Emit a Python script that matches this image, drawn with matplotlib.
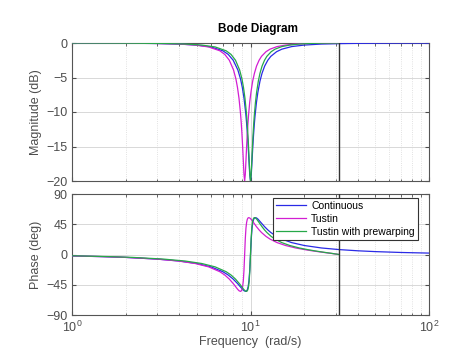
import matplotlib
matplotlib.use("Agg")
import matplotlib.pyplot as plt
from matplotlib.ticker import LogLocator, NullFormatter, FixedLocator

plt.rcParams["font.family"] = ["Liberation Sans", "DejaVu Sans"]

# --- data (frequency in rad/s, magnitude in dB, phase in deg)
cont_w = [1, 1.5, 2, 3, 4, 5, 6, 7, 7.5, 8, 8.5, 8.8, 9, 9.2, 9.4, 9.5, 9.6,
          9.7, 9.8, 9.9, 10, 10.1, 10.2, 10.3, 10.4, 10.5, 10.6, 10.8, 11,
          11.3, 11.6, 12, 12.5, 13, 14, 15, 17, 20, 25, 31.4, 40, 50, 70, 100]
cont_mag = [-0.01, -0.02, -0.03, -0.07, -0.15, -0.30, -0.57, -1.13, -1.65,
            -2.50, -3.92, -5.25, -6.47, -8.04, -10.15, -11.48, -13.04, -14.89,
            -16.99, -19.03, -20.00, -19.05, -17.07, -15.06, -13.31, -11.83,
            -10.58, -8.60, -7.13, -5.53, -4.40, -3.35, -2.50, -1.93, -1.26,
            -0.89, -0.52, -0.30, -0.15, -0.09, -0.05, -0.03, -0.01, -0.01]
cont_phase = [-2.1, -3.2, -4.3, -6.8, -9.7, -13.4, -18.4, -25.6, -30.5, -36.6,
              -43.8, -48.5, -51.5, -53.9, -54.9, -54.3, -52.4, -48.1, -39.5,
              -23.8, 0.0, 23.6, 39.1, 47.5, 51.9, 54.0, 54.8, 54.4, 52.7, 49.2,
              45.7, 41.3, 36.6, 32.7, 26.9, 22.9, 17.7, 13.4, 9.7, 7.3, 5.5,
              4.3, 3.0, 2.1]

tus_w = [0.999, 1.497, 1.993, 2.978, 3.948, 4.900, 5.829, 6.734, 7.175, 7.610,
         8.037, 8.290, 8.457, 8.623, 8.787, 8.869, 8.950, 9.031, 9.112, 9.192,
         9.273, 9.351, 9.430, 9.509, 9.587, 9.665, 9.743, 9.897, 10.057,
         10.286, 10.517, 10.808, 11.172, 11.528, 12.215, 12.870, 14.090,
         15.708, 17.921, 20.073, 22.143, 23.806, 25.850, 27.468, 28.578,
         29.423, 30.417, 31.016, 31.416]
tus_mag = [-0.01, -0.02, -0.03, -0.07, -0.15, -0.30, -0.57, -1.13, -1.65,
           -2.50, -3.92, -5.25, -6.47, -8.04, -10.15, -11.48, -13.04, -14.89,
           -16.99, -19.03, -20.00, -19.05, -17.07, -15.06, -13.31, -11.83,
           -10.58, -8.60, -7.13, -5.53, -4.40, -3.35, -2.50, -1.93, -1.26,
           -0.89, -0.52, -0.30, -0.15, -0.09, -0.05, -0.03, -0.01, -0.01,
           0.00, 0.00, 0.00, 0.00, 0.00]
tus_phase = [-2.1, -3.2, -4.3, -6.8, -9.7, -13.4, -18.4, -25.6, -30.5, -36.6,
             -43.8, -48.5, -51.5, -53.9, -54.9, -54.3, -52.4, -48.1, -39.5,
             -23.8, 0.0, 23.6, 39.1, 47.5, 51.9, 54.0, 54.8, 54.4, 52.7, 49.2,
             45.7, 41.3, 36.6, 32.7, 26.9, 22.9, 17.7, 13.4, 9.7, 7.3, 5.5,
             4.3, 3.0, 2.1, 1.5, 1.0, 0.5, 0.2, 0.0]

pw_w = [0.983, 1.092, 1.635, 2.177, 3.249, 4.303, 5.333, 6.335, 7.305, 7.777,
        8.241, 8.695, 8.963, 9.139, 9.314, 9.488, 9.574, 9.660, 9.746, 9.831,
        9.916, 10.000, 10.084, 10.168, 10.251, 10.334, 10.416, 10.498, 10.661,
        10.822, 11.061, 11.297, 11.606, 11.983, 12.351, 13.058, 13.730,
        14.969, 16.594, 18.775, 20.855, 22.833, 24.397, 26.301, 27.795,
        28.816, 29.591, 30.501, 31.050, 31.416]
pw_mag = [-0.01, -0.01, -0.02, -0.03, -0.07, -0.15, -0.30, -0.57, -1.13, -1.65,
          -2.50, -3.92, -5.25, -6.47, -8.04, -10.15, -11.48, -13.04, -14.89,
          -16.99, -19.03, -20.00, -19.05, -17.07, -15.06, -13.31, -11.83,
          -10.58, -8.60, -7.13, -5.53, -4.40, -3.35, -2.50, -1.93, -1.26,
          -0.89, -0.52, -0.30, -0.15, -0.09, -0.05, -0.03, -0.01, -0.01,
          0.00, 0.00, 0.00, 0.00, 0.00]
pw_phase = [-1.9, -2.1, -3.2, -4.3, -6.8, -9.7, -13.4, -18.4, -25.6, -30.5,
            -36.6, -43.8, -48.5, -51.5, -53.9, -54.9, -54.3, -52.4, -48.1,
            -39.5, -23.8, 0.0, 23.6, 39.1, 47.5, 51.9, 54.0, 54.8, 54.4, 52.7,
            49.2, 45.7, 41.3, 36.6, 32.7, 26.9, 22.9, 17.7, 13.4, 9.7, 7.3,
            5.5, 4.3, 3.0, 2.1, 1.5, 1.0, 0.5, 0.2, 0.0]

nyquist_w = 31.416
series_names = ["Continuous", "Tustin", "Tustin with prewarping"]

# --- styling
C_CONT = "#2a2ae6"
C_TUS = "#d21ed2"
C_PW = "#26a848"
TXT = "#4d4d4d"
EDGE = "#555555"


def style_axes(ax):
    ax.set_xscale("log")
    ax.set_xlim(1, 100)
    ax.xaxis.set_major_locator(LogLocator(base=10, numticks=5))
    ax.xaxis.set_minor_locator(LogLocator(base=10, subs=range(2, 10), numticks=20))
    ax.xaxis.set_minor_formatter(NullFormatter())
    ax.grid(True, which="major", color="#d8d8d8", lw=0.7, ls="-")
    ax.grid(True, which="minor", color="#d8d8d8", lw=0.6, ls=":")
    ax.tick_params(which="both", direction="in", top=True, right=True,
                   colors=TXT, labelsize=9, length=3)
    ax.tick_params(which="minor", length=1.8)
    for s in ax.spines.values():
        s.set_color(EDGE)
        s.set_linewidth(0.8)
    ax.axvline(nyquist_w, color="#333333", lw=1.0, zorder=4)


fig = plt.figure(figsize=(4.74, 3.55), dpi=100)
ax1 = fig.add_axes([72 / 474, 1 - 181 / 355, 357 / 474, 138 / 355])
ax2 = fig.add_axes([72 / 474, 1 - 315 / 355, 357 / 474, 121 / 355])

for ax in (ax1, ax2):
    style_axes(ax)

ax1.plot(cont_w, cont_mag, color=C_CONT, lw=0.9, zorder=3)
ax1.plot(tus_w, tus_mag, color=C_TUS, lw=0.9, zorder=3)
ax1.plot(pw_w, pw_mag, color=C_PW, lw=0.9, zorder=3)
ax1.set_ylim(-20, 0)
ax1.yaxis.set_major_locator(FixedLocator([-20, -15, -10, -5, 0]))
ax1.tick_params(labelbottom=False)
ax1.set_ylabel("Magnitude (dB)", color=TXT, fontsize=9, labelpad=3)
ax1.set_title("Bode Diagram", fontsize=8.5, fontweight="bold", pad=8, x=0.521)

l1, = ax2.plot(cont_w, cont_phase, color=C_CONT, lw=0.9, zorder=3)
l2, = ax2.plot(tus_w, tus_phase, color=C_TUS, lw=0.9, zorder=3)
l3, = ax2.plot(pw_w, pw_phase, color=C_PW, lw=0.9, zorder=3)
ax2.set_ylim(-90, 90)
ax2.yaxis.set_major_locator(FixedLocator([-90, -45, 0, 45, 90]))
ax2.set_ylabel("Phase (deg)", color=TXT, fontsize=9, labelpad=3)
ax2.set_xlabel("Frequency  (rad/s)", color=TXT, fontsize=9, labelpad=1)

leg = ax2.legend([l1, l2, l3], series_names, loc="upper right",
                 bbox_to_anchor=(0.969, 0.967), fontsize=7.5, frameon=True,
                 fancybox=False, borderpad=0.3, labelspacing=0.28,
                 handlelength=2.9, handletextpad=0.45, borderaxespad=0.0)
leg.get_frame().set_edgecolor("#333333")
leg.get_frame().set_linewidth(0.8)
leg.get_frame().set_alpha(1)
leg.set_zorder(5)

fig.savefig("out.png", dpi=100)
